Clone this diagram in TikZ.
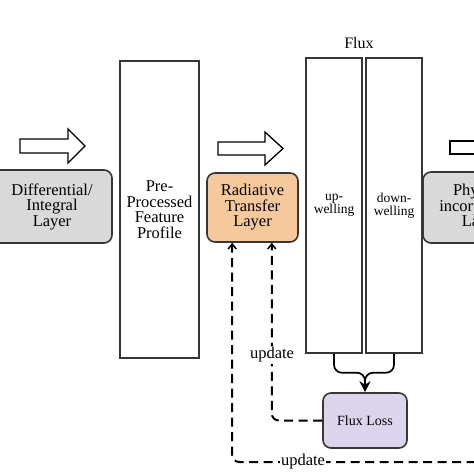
\documentclass[tikz,border=0pt]{standalone}
\usepackage{fontspec}
\setmainfont{Liberation Serif}
\usetikzlibrary{arrows.meta}
\definecolor{boxgray}{HTML}{D9D9D9}
\definecolor{boxorange}{HTML}{F6C99C}
\definecolor{boxpurple}{HTML}{DCD4EC}
\definecolor{edge}{HTML}{363636}
\tikzset{
  layerbox/.style={draw=edge, line width=1.6pt, rounded corners=8pt, align=center,
    inner sep=0pt, font=\fontsize{16.5}{15.5}\selectfont},
  tallbox/.style={draw=edge, line width=1.5pt, fill=white, align=center, inner sep=0pt},
  hollow/.style={draw=black, line width=1.3pt, fill=white},
  dsh/.style={line width=2pt, dash pattern=on 9pt off 5.5pt, rounded corners=7pt,
    -{Straight Barb[length=5pt,width=8pt,line width=1.5pt]}},
  lbl/.style={fill=white, inner sep=1.5pt, font=\fontsize{16.5}{16}\selectfont},
  merge/.style={line width=1.7pt, rounded corners=8pt}
}
\begin{document}
\begin{tikzpicture}[x=1pt,y=-1pt]
\useasboundingbox (0,0) rectangle (474,474);
\clip (0,0) rectangle (474,474);
\fill[white] (0,0) rectangle (474,474);

% hollow arrows
\draw[hollow] (20,139) -- (68,139) -- (68,129) -- (85,146) -- (68,163) -- (68,153) -- (20,153) -- cycle;
\draw[hollow] (218,142) -- (265,142) -- (265,132) -- (283,148.5) -- (265,165) -- (265,155) -- (218,155) -- cycle;
\draw[hollow] (450,141) -- (520,141) -- (520,154) -- (450,154) -- cycle;

% nodes
\node[layerbox, fill=boxgray, minimum width=120pt, minimum height=73pt] (diff) at (52,206.5) {Differential/\\Integral\\Layer};
\node[tallbox, minimum width=79pt, minimum height=297pt, font=\fontsize{16.5}{15.5}\selectfont] (pre) at (159.5,209.5) {Pre-\\Processed\\Feature\\Profile};
\node[layerbox, fill=boxorange, minimum width=91pt, minimum height=69pt] (rad) at (252.5,207.5) {Radiative\\Transfer\\Layer};
\node[tallbox, minimum width=56pt, minimum height=295pt, font=\fontsize{13.5}{13.3}\selectfont] (up) at (334,205.5) {up-\\welling};
\node[tallbox, minimum width=56pt, minimum height=295pt, font=\fontsize{13.5}{13.3}\selectfont] (down) at (394,205.5) {down-\\welling};
\node[font=\fontsize{16}{16}\selectfont, inner sep=0pt] (fluxlbl) at (359,43) {Flux};
\node[layerbox, fill=boxgray, minimum width=116pt, minimum height=71pt] (phys) at (481,207.5) {Physics-\\incorporated\\Layer};
\node[layerbox, fill=boxpurple, minimum width=84pt, minimum height=55pt, font=\fontsize{14}{14}\selectfont] (loss) at (365,420.5) {Flux Loss};

% merging arrows
\draw[merge] (up.south) -- ++(0,19) -| ([yshift=12pt]loss.north);
\draw[merge] (down.south) -- ++(0,19) -| ([yshift=12pt]loss.north);
\draw[line width=1.7pt, -{Stealth[length=11pt,width=11pt]}] ([yshift=14pt]loss.north) -- (loss.north);

% dashed update lines
\coordinate (farR) at (490,462);
\draw[dsh] (farR) -| ([xshift=26pt]rad.south west);
\draw[dsh] (loss.west) -| ([xshift=-27pt]rad.south east);
\node[lbl] (upd1) at (272,355) {update};
\node[lbl] (upd2) at (303,462) {update};
\end{tikzpicture}
\end{document}
